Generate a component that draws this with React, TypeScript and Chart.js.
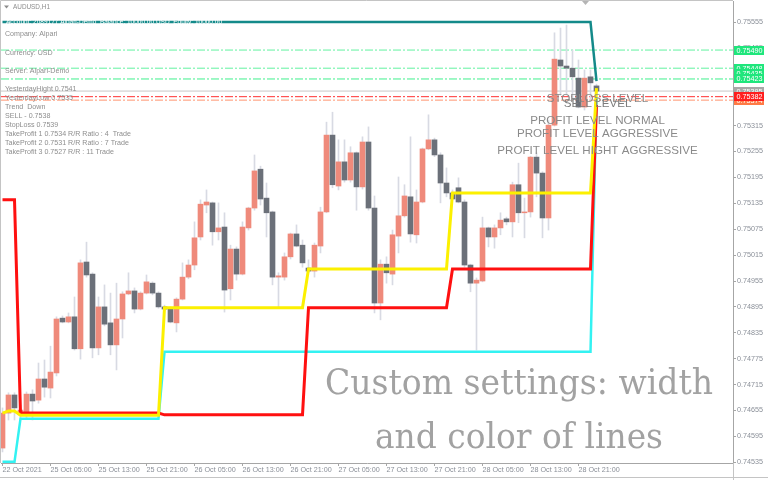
import React, { useEffect, useRef } from 'react';
import { Chart, registerables } from 'chart.js';

Chart.register(...registerables);

const FONT = "'Liberation Sans', Arial, sans-serif";

// ---- candles (AUDUSD H1), index 0..99 ----
const OPEN = [
  0.74568, 0.74649, 0.74691, 0.74645, 0.74649, 0.74693, 0.74679, 0.74728, 0.74707, 0.74742,
  0.74869, 0.74860, 0.74872, 0.74798, 0.74999, 0.74971, 0.74800, 0.74895, 0.74858, 0.74807,
  0.74867, 0.74925, 0.74932, 0.74890, 0.74927, 0.74950, 0.74927, 0.74895, 0.74892, 0.74858,
  0.74913, 0.74964, 0.74992, 0.75057, 0.75131, 0.75136, 0.75069, 0.75080, 0.74937, 0.75029,
  0.74971, 0.75078, 0.75124, 0.75214, 0.75147, 0.75115, 0.74964, 0.74964, 0.75011, 0.75064,
  0.75038, 0.74985, 0.74978, 0.75036, 0.75115, 0.75293, 0.75175, 0.75231, 0.75189, 0.75252,
  0.75173, 0.75277, 0.75124, 0.74904, 0.74994, 0.74971, 0.75059, 0.75106, 0.75150, 0.75062,
  0.75138, 0.75261, 0.75282, 0.75247, 0.75182, 0.75159, 0.75171, 0.75138, 0.74992, 0.74950,
  0.74955, 0.75078, 0.75057, 0.75078, 0.75099, 0.75092, 0.75178, 0.75113, 0.75115, 0.75242,
  0.75205, 0.75101, 0.75316, 0.75467, 0.75453, 0.75448, 0.75425, 0.75358, 0.75428, 0.75407,
];
const HIGH = [
  0.74661, 0.74696, 0.74696, 0.74668, 0.74698, 0.74703, 0.74765, 0.74772, 0.74804, 0.74872,
  0.74874, 0.74881, 0.74918, 0.75004, 0.75045, 0.74974, 0.74918, 0.74946, 0.74927, 0.74950,
  0.74930, 0.74974, 0.74939, 0.74930, 0.74969, 0.74953, 0.74930, 0.74899, 0.74895, 0.74916,
  0.74997, 0.75004, 0.75092, 0.75143, 0.75166, 0.75138, 0.75136, 0.75113, 0.75038, 0.75034,
  0.75092, 0.75126, 0.75247, 0.75221, 0.75182, 0.75117, 0.74974, 0.75020, 0.75066, 0.75085,
  0.75050, 0.75004, 0.75043, 0.75126, 0.75323, 0.75346, 0.75282, 0.75282, 0.75266, 0.75254,
  0.75289, 0.75312, 0.75152, 0.75004, 0.75011, 0.75073, 0.75196, 0.75178, 0.75289, 0.75166,
  0.75263, 0.75340, 0.75286, 0.75252, 0.75217, 0.75166, 0.75194, 0.75143, 0.74994, 0.74962,
  0.75103, 0.75080, 0.75085, 0.75113, 0.75103, 0.75184, 0.75228, 0.75147, 0.75244, 0.75252,
  0.75208, 0.75328, 0.75530, 0.75541, 0.75548, 0.75490, 0.75467, 0.75444, 0.75444, 0.75411,
];
const LOW = [
  0.74559, 0.74633, 0.74633, 0.74638, 0.74638, 0.74633, 0.74672, 0.74686, 0.74684, 0.74735,
  0.74858, 0.74858, 0.74795, 0.74774, 0.74964, 0.74777, 0.74784, 0.74851, 0.74784, 0.74749,
  0.74823, 0.74923, 0.74881, 0.74888, 0.74925, 0.74923, 0.74892, 0.74888, 0.74858, 0.74837,
  0.74911, 0.74960, 0.74981, 0.75050, 0.75113, 0.75038, 0.75050, 0.74883, 0.74911, 0.74957,
  0.74969, 0.75073, 0.75119, 0.75131, 0.75057, 0.74946, 0.74895, 0.74957, 0.75006, 0.75034,
  0.74987, 0.74974, 0.74964, 0.75020, 0.75113, 0.75171, 0.75166, 0.75184, 0.75184, 0.75119,
  0.75168, 0.75119, 0.74881, 0.74865, 0.74950, 0.74946, 0.75020, 0.75103, 0.75045, 0.75043,
  0.75136, 0.75259, 0.75243, 0.75136, 0.75150, 0.75143, 0.75136, 0.74987, 0.74930, 0.74795,
  0.74953, 0.75034, 0.75031, 0.75062, 0.75085, 0.75057, 0.75090, 0.75055, 0.75103, 0.75150,
  0.75055, 0.75073, 0.75314, 0.75386, 0.75386, 0.75374, 0.75356, 0.75351, 0.75374, 0.75379,
];
const CLOSE = [
  0.74649, 0.74691, 0.74661, 0.74656, 0.74693, 0.74677, 0.74728, 0.74709, 0.74744, 0.74867,
  0.74860, 0.74872, 0.74798, 0.74997, 0.74969, 0.74800, 0.74895, 0.74855, 0.74807, 0.74867,
  0.74925, 0.74932, 0.74890, 0.74927, 0.74953, 0.74927, 0.74895, 0.74890, 0.74860, 0.74913,
  0.74964, 0.74992, 0.75055, 0.75133, 0.75138, 0.75069, 0.75078, 0.74934, 0.75029, 0.74971,
  0.75080, 0.75124, 0.75210, 0.75145, 0.75113, 0.74964, 0.74967, 0.75011, 0.75064, 0.75036,
  0.74997, 0.74978, 0.75038, 0.75115, 0.75293, 0.75178, 0.75231, 0.75189, 0.75252, 0.75173,
  0.75277, 0.75124, 0.74904, 0.74994, 0.74974, 0.75062, 0.75106, 0.75152, 0.75064, 0.75138,
  0.75261, 0.75282, 0.75247, 0.75182, 0.75159, 0.75145, 0.75138, 0.74992, 0.74950, 0.74957,
  0.75078, 0.75057, 0.75078, 0.75096, 0.75092, 0.75178, 0.75113, 0.75115, 0.75242, 0.75205,
  0.75101, 0.75316, 0.75469, 0.75453, 0.75448, 0.75428, 0.75358, 0.75425, 0.75414, 0.75395,
];

// ---- indicator lines, one value per bar ----
const RED_LINE = [
  0.75143, 0.75143, 0.75143,
  0.74649, 0.74649, 0.74649, 0.74649, 0.74649, 0.74649, 0.74649, 0.74649, 0.74649, 0.74649, 0.74649, 0.74649,
  0.74649, 0.74649, 0.74649, 0.74649, 0.74649, 0.74649, 0.74649, 0.74649, 0.74649, 0.74649, 0.74649, 0.74649,
  0.74645, 0.74645, 0.74645, 0.74645, 0.74645, 0.74645, 0.74645, 0.74645, 0.74645, 0.74645, 0.74645, 0.74645,
  0.74645, 0.74645, 0.74645, 0.74645, 0.74645, 0.74645, 0.74645, 0.74645, 0.74645, 0.74645, 0.74645, 0.74645,
  0.74893, 0.74893, 0.74893, 0.74893, 0.74893, 0.74893, 0.74893, 0.74893, 0.74893, 0.74893, 0.74893, 0.74893,
  0.74893, 0.74893, 0.74893, 0.74893, 0.74893, 0.74893, 0.74893, 0.74893, 0.74893, 0.74893, 0.74893, 0.74893,
  0.74983, 0.74983, 0.74983, 0.74983, 0.74983, 0.74983, 0.74983, 0.74983, 0.74983, 0.74983, 0.74983, 0.74983,
  0.74983, 0.74983, 0.74983, 0.74983, 0.74983, 0.74983, 0.74983, 0.74983, 0.74983, 0.74983, 0.74983, 0.74983,
  0.75363,
];
const YELLOW_LINE = [
  0.74649, 0.74654, 0.74654,
  0.74644, 0.74644, 0.74644, 0.74644, 0.74644, 0.74644, 0.74644, 0.74644, 0.74644, 0.74644, 0.74644, 0.74644,
  0.74644, 0.74644, 0.74644, 0.74644, 0.74644, 0.74644, 0.74644, 0.74644, 0.74644, 0.74644, 0.74644, 0.74644,
  0.74893, 0.74893, 0.74893, 0.74893, 0.74893, 0.74893, 0.74893, 0.74893, 0.74893, 0.74893, 0.74893, 0.74893,
  0.74893, 0.74893, 0.74893, 0.74893, 0.74893, 0.74893, 0.74893, 0.74893, 0.74893, 0.74893, 0.74893, 0.74893,
  0.74983, 0.74983, 0.74983, 0.74983, 0.74983, 0.74983, 0.74983, 0.74983, 0.74983, 0.74983, 0.74983, 0.74983,
  0.74983, 0.74983, 0.74983, 0.74983, 0.74983, 0.74983, 0.74983, 0.74983, 0.74983, 0.74983, 0.74983, 0.74983,
  0.75159, 0.75159, 0.75159, 0.75159, 0.75159, 0.75159, 0.75159, 0.75159, 0.75159, 0.75159, 0.75159, 0.75159,
  0.75159, 0.75159, 0.75159, 0.75159, 0.75159, 0.75159, 0.75159, 0.75159, 0.75159, 0.75159, 0.75159, 0.75159,
  0.75402,
];
const CYAN_LINE = [
  0.74536, 0.74536, 0.74536,
  0.74636, 0.74636, 0.74636, 0.74636, 0.74636, 0.74636, 0.74636, 0.74636, 0.74636, 0.74636, 0.74636, 0.74636,
  0.74636, 0.74636, 0.74636, 0.74636, 0.74636, 0.74636, 0.74636, 0.74636, 0.74636, 0.74636, 0.74636, 0.74636,
  0.74791, 0.74791, 0.74791, 0.74791, 0.74791, 0.74791, 0.74791, 0.74791, 0.74791, 0.74791, 0.74791, 0.74791,
  0.74791, 0.74791, 0.74791, 0.74791, 0.74791, 0.74791, 0.74791, 0.74791, 0.74791, 0.74791, 0.74791, 0.74791,
  0.74791, 0.74791, 0.74791, 0.74791, 0.74791, 0.74791, 0.74791, 0.74791, 0.74791, 0.74791, 0.74791, 0.74791,
  0.74791, 0.74791, 0.74791, 0.74791, 0.74791, 0.74791, 0.74791, 0.74791, 0.74791, 0.74791, 0.74791, 0.74791,
  0.74791, 0.74791, 0.74791, 0.74791, 0.74791, 0.74791, 0.74791, 0.74791, 0.74791, 0.74791, 0.74791, 0.74791,
  0.74791, 0.74791, 0.74791, 0.74791, 0.74791, 0.74791, 0.74791, 0.74791, 0.74791, 0.74791, 0.74791, 0.74791,
  0.75380,
];
const TEAL_LINE = [
  0.75555, 0.75555, 0.75555,
  0.75555, 0.75555, 0.75555, 0.75555, 0.75555, 0.75555, 0.75555, 0.75555, 0.75555, 0.75555, 0.75555, 0.75555,
  0.75555, 0.75555, 0.75555, 0.75555, 0.75555, 0.75555, 0.75555, 0.75555, 0.75555, 0.75555, 0.75555, 0.75555,
  0.75555, 0.75555, 0.75555, 0.75555, 0.75555, 0.75555, 0.75555, 0.75555, 0.75555, 0.75555, 0.75555, 0.75555,
  0.75555, 0.75555, 0.75555, 0.75555, 0.75555, 0.75555, 0.75555, 0.75555, 0.75555, 0.75555, 0.75555, 0.75555,
  0.75555, 0.75555, 0.75555, 0.75555, 0.75555, 0.75555, 0.75555, 0.75555, 0.75555, 0.75555, 0.75555, 0.75555,
  0.75555, 0.75555, 0.75555, 0.75555, 0.75555, 0.75555, 0.75555, 0.75555, 0.75555, 0.75555, 0.75555, 0.75555,
  0.75555, 0.75555, 0.75555, 0.75555, 0.75555, 0.75555, 0.75555, 0.75555, 0.75555, 0.75555, 0.75555, 0.75555,
  0.75555, 0.75555, 0.75555, 0.75555, 0.75555, 0.75555, 0.75555, 0.75555, 0.75555, 0.75555, 0.75555, 0.75555,
  0.75418,
];

// ---- horizontal price levels ----
const LEVEL_VALUES = [0.7549, 0.75448, 0.75423, 0.75395, 0.75382, 0.75374];
const LEVEL_COLORS = ['#62f2a0', '#62f2a0', '#3ff08c', '#c9c9c9', '#ff3030', '#ff9470'];
const LEVEL_DASHED = [true, true, true, false, true, true];

// ---- price tags on the right axis (drawn in this order) ----
const TAG_VALUES = [0.7549, 0.75448, 0.75435, 0.75423, 0.75395, 0.75374, 0.75382];
const TAG_TEXTS = ['0.75490', '0.75448', '0.75435', '0.75423', '0.75395', '0.75374', '0.75382'];
const TAG_COLORS = ['#1fe67c', '#1fe67c', '#1fe67c', '#1fe67c', '#a8a8a8', '#ff7a45', '#ff1d1d'];

// ---- axes ----
const Y_TICKS = [
  0.74535, 0.74595, 0.74655, 0.74715, 0.74775, 0.74835, 0.74895, 0.74955, 0.75015,
  0.75075, 0.75135, 0.75195, 0.75255, 0.75315, 0.75375, 0.75435, 0.75495, 0.75555,
];
const TIME_TICKS = [0, 8, 16, 24, 32, 40, 48, 56, 64, 72, 80, 88, 96];
const TIME_LABELS = [
  '22 Oct 2021', '25 Oct 05:00', '25 Oct 13:00', '25 Oct 21:00', '26 Oct 05:00',
  '26 Oct 13:00', '26 Oct 21:00', '27 Oct 05:00', '27 Oct 13:00', '27 Oct 21:00',
  '28 Oct 05:00', '28 Oct 13:00', '28 Oct 21:00',
];

// ---- texts ----
const INFO_LINES = [
  'Company: Alpari',
  'Currency: USD',
  'Server: Alpari-Demo',
  'YesterdayHight 0.7541',
  'YesterdayLow 0.7535',
  'Trend  Down',
  'SELL - 0.7538',
  'StopLoss 0.7539',
  'TakeProfit 1 0.7534 R/R Ratio : 4  Trade',
  'TakeProfit 2 0.7531 R/R Ratio : 7 Trade',
  'TakeProfit 3 0.7527 R/R : 11 Trade',
];
const INFO_Y = [34, 53, 71, 89, 98, 107, 116, 125, 134, 143, 152];
const HIDDEN_LINE = 'Account: 2089177 Alpari-Demo  Balance: 10000.00 USD  Equity: 10000.00';
const LEVEL_TEXTS = ['STOPLOSS LEVEL', 'SELL LEVEL', 'PROFIT LEVEL NORMAL', 'PROFIT LEVEL AGGRESSIVE', 'PROFIT LEVEL HIGHT AGGRESSIVE'];
const LEVEL_TEXT_VALUES = [0.7539, 0.7538, 0.7534, 0.7531, 0.7527];
const WATERMARK = ['Custom settings: width', 'and color of lines'];

const X_MIN = -0.25;
const X_MAX = 121.75;
const Y_MIN = 0.7453338;
const Y_MAX = 0.7560365;

const BULL = '#ef8a7b';
const BEAR = '#6b7079';
const WICK = '#d8dae3';
const AXIS = '#a6a6a6';
const TICK_TEXT = '#8a8f98';

const overlay = {
  id: 'overlay',
  afterDraw(chart: any) {
    const ctx: CanvasRenderingContext2D = chart.ctx;
    const xs = chart.scales.x;
    const ys = chart.scales.y;
    const area = chart.chartArea;
    ctx.save();

    // frame
    ctx.strokeStyle = '#c4c4c4';
    ctx.lineWidth = 1;
    ctx.beginPath();
    ctx.moveTo(0.5, area.bottom);
    ctx.lineTo(0.5, 0.5);
    ctx.lineTo(area.right, 0.5);
    ctx.moveTo(Math.round(area.right) + 0.5, area.bottom);
    ctx.lineTo(Math.round(area.right) + 0.5, 480);
    ctx.moveTo(0, 477.5);
    ctx.lineTo(768, 477.5);
    ctx.stroke();

    // shift marker
    ctx.fillStyle = '#b5b5b5';
    ctx.beginPath();
    ctx.moveTo(582, 1);
    ctx.lineTo(589, 1);
    ctx.lineTo(585.5, 5);
    ctx.closePath();
    ctx.fill();

    // white text crossing the top line
    ctx.textAlign = 'left';
    ctx.textBaseline = 'middle';
    ctx.font = `7px ${FONT}`;
    ctx.fillStyle = '#ffffff';
    {
      const m = ctx.measureText(HIDDEN_LINE).width;
      ctx.save();
      ctx.translate(6, ys.getPixelForValue(TEAL_LINE[0]) + 0.5);
      ctx.scale(216 / m, 1);
      ctx.fillText(HIDDEN_LINE, 0, 0);
      ctx.restore();
    }

    // title
    ctx.fillStyle = '#8c8c8c';
    ctx.beginPath();
    ctx.moveTo(4, 5.5);
    ctx.lineTo(9, 5.5);
    ctx.lineTo(6.5, 8.5);
    ctx.closePath();
    ctx.fill();
    ctx.font = `6.4px ${FONT}`;
    ctx.fillText('AUDUSD,H1', 13, 7.5);

    // info block
    ctx.font = `7.1px ${FONT}`;
    ctx.fillStyle = '#8e8e8e';
    INFO_LINES.forEach((t, i) => ctx.fillText(t, 5, INFO_Y[i]));

    // level labels
    const cx = xs.getPixelForValue(99) + 1;
    ctx.textAlign = 'center';
    ctx.textBaseline = 'top';
    ctx.font = `11.6px ${FONT}`;
    LEVEL_TEXTS.forEach((t, i) => {
      ctx.fillStyle = i === 1 ? '#7c7c7c' : '#8a8a8a';
      ctx.fillText(t, cx, ys.getPixelForValue(LEVEL_TEXT_VALUES[i]));
    });

    // watermark
    ctx.fillStyle = '#a2a2a2';
    ctx.textAlign = 'left';
    ctx.textBaseline = 'alphabetic';
    ctx.font = `36px "DejaVu Serif", serif`;
    const wm = [
      { x: 325, w: 388, base: 394 },
      { x: 375, w: 288, base: 448 },
    ];
    WATERMARK.forEach((t, i) => {
      const m = ctx.measureText(t).width;
      ctx.save();
      ctx.translate(wm[i].x, wm[i].base);
      ctx.scale(wm[i].w / m, 1);
      ctx.fillText(t, 0, 0);
      ctx.restore();
    });

    // price tags
    ctx.font = `7.2px ${FONT}`;
    ctx.textBaseline = 'middle';
    TAG_VALUES.forEach((v, i) => {
      const y = ys.getPixelForValue(v);
      ctx.fillStyle = TAG_COLORS[i];
      ctx.fillRect(734, Math.round(y - 4.5), 30, 9);
      ctx.fillStyle = '#ffffff';
      ctx.fillText(TAG_TEXTS[i], 736.5, Math.round(y - 4.5) + 4.8);
    });

    ctx.restore();
  },
};

export default function App() {
  const ref = useRef<HTMLCanvasElement>(null);

  useEffect(() => {
    document.body.style.margin = '0';
    const idx = OPEN.map((_, i) => i);
    const line = (arr: number[]) => arr.map((v, i) => ({ x: i, y: v }));
    const levelSets = LEVEL_VALUES.map((v, i) => ({
      type: 'line' as const,
      data: [{ x: X_MIN, y: v }, { x: X_MAX, y: v }],
      borderColor: LEVEL_COLORS[i],
      borderWidth: 1,
      borderDash: LEVEL_DASHED[i] ? [8, 2, 2, 2] : [],
      pointRadius: 0,
      order: 5,
    }));
    const stepSet = (arr: number[], color: string, width: number, order: number) => ({
      type: 'line' as const,
      data: line(arr),
      borderColor: color,
      borderWidth: width,
      pointRadius: 0,
      tension: 0,
      order,
    });

    const chart = new Chart(ref.current as HTMLCanvasElement, {
      type: 'bar',
      data: {
        datasets: [
          ...levelSets,
          {
            type: 'bar',
            data: idx.map((i) => ({ x: i, y: [LOW[i], HIGH[i]] })),
            backgroundColor: WICK,
            barThickness: 1,
            grouped: false,
            borderWidth: 0,
            order: 4,
          } as any,
          {
            type: 'bar',
            data: idx.map((i) => ({ x: i, y: [OPEN[i], CLOSE[i]] })),
            backgroundColor: idx.map((i) => (CLOSE[i] >= OPEN[i] ? BULL : BEAR)),
            barThickness: 5,
            grouped: false,
            borderWidth: 0,
            order: 3,
          } as any,
          stepSet(TEAL_LINE, '#148a8a', 2.5, 2),
          stepSet(CYAN_LINE, '#33f2f2', 2.5, 2),
          stepSet(RED_LINE, '#ff1010', 3, 1),
          stepSet(YELLOW_LINE, '#fcf000', 3, 0),
        ] as any,
      },
      options: {
        animation: false,
        responsive: false,
        devicePixelRatio: 1,
        events: [],
        layout: { padding: { left: 1, top: 1, right: 0, bottom: 0 } },
        plugins: { legend: { display: false }, tooltip: { enabled: false } },
        scales: {
          x: {
            type: 'linear',
            min: X_MIN,
            max: X_MAX,
            offset: false,
            afterBuildTicks: (s: any) => {
              s.ticks = TIME_TICKS.map((v) => ({ value: v }));
            },
            afterFit: (s: any) => {
              s.height = 17;
              s.paddingLeft = 0;
              s.paddingRight = 0;
            },
            grid: { drawOnChartArea: false, drawTicks: true, tickLength: 3, color: AXIS, offset: false },
            border: { display: true, color: AXIS },
            ticks: {
              autoSkip: false,
              maxRotation: 0,
              minRotation: 0,
              align: 'start',
              padding: 0,
              color: TICK_TEXT,
              font: { size: 7.2, family: FONT },
              callback: (v: any) => {
                const k = TIME_TICKS.indexOf(Number(v));
                return k >= 0 ? TIME_LABELS[k] : '';
              },
            },
          },
          y: {
            type: 'linear',
            position: 'right',
            min: Y_MIN,
            max: Y_MAX,
            afterBuildTicks: (s: any) => {
              s.ticks = Y_TICKS.map((v) => ({ value: v }));
            },
            afterFit: (s: any) => {
              s.width = 35;
              s.paddingTop = 0;
              s.paddingBottom = 0;
            },
            grid: { drawOnChartArea: false, drawTicks: true, tickLength: 3, color: AXIS },
            border: { display: true, color: AXIS },
            ticks: {
              padding: 1,
              color: TICK_TEXT,
              font: { size: 7.2, family: FONT },
              callback: (v: any) => Number(v).toFixed(5),
            },
          },
        },
      } as any,
      plugins: [overlay],
    });
    return () => chart.destroy();
  }, []);

  return (
    <div style={{ position: 'fixed', left: 0, top: 0, width: 768, height: 480, background: '#ffffff' }}>
      <canvas ref={ref} width={768} height={480} style={{ display: 'block', width: 768, height: 480 }} />
    </div>
  );
}
